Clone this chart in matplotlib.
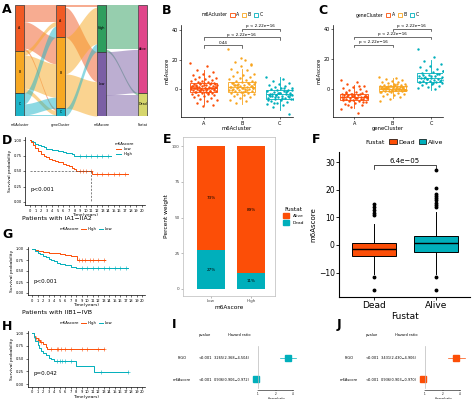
import numpy as np
import matplotlib
matplotlib.use("Agg")
import matplotlib.pyplot as plt
from matplotlib.patches import Patch, Rectangle
from matplotlib.lines import Line2D

# ---- colours ----
RED = "#FC4E07"
ORANGE = "#F8A51E"
TEAL = "#00AFBB"

# ---- A: alluvial ----
allu_axes = ["m6Acluster", "geneCluster", "m6Ascore", "Fustat"]
allu_strata = [["A", "B", "C"], ["A", "B", "C"], ["High", "Low"], ["Alive", "Dead"]]
allu_colors = [["#F15A24", "#F7A823", "#1DB4C8"], ["#F15A24", "#F7A823", "#1DB4C8"],
               ["#2E9E5E", "#7B5FA5"], ["#E0468A", "#D6D66C"]]
flow_m6a_gene = [[0.15, 0.24, 0.02], [0.04, 0.30, 0.04], [0.10, 0.10, 0.01]]
flow_gene_score = [[0.02, 0.27], [0.33, 0.31], [0.07, 0.00]]
flow_score_fustat = [[0.40, 0.02], [0.39, 0.19]]

# ---- B: m6Ascore by m6Acluster ----
groups_abc = ["A", "B", "C"]
b_A = [17.5, 15.8, 13.2, 11.6, 10.4, 9.5, 8.7, 8.1, 7.6, 7.0, 6.5, 6.1, 5.7, 5.3, 4.9, 4.6, 4.3, 4.0,
       3.7, 3.4, 3.1, 2.9, 2.6, 2.4, 2.1, 1.9, 1.7, 1.5, 1.3, 1.1, 0.9, 0.7, 0.5, 0.3, 0.1, -0.1,
       -0.3, -0.5, -0.7, -0.9, -1.1, -1.3, -1.6, -1.9, -2.2, -2.5, -2.8, -3.1, -3.5, -3.9, -4.3,
       -4.8, -5.3, -5.9, -6.6, -7.4, -8.3, -9.4, -10.6, -11.8, 2.2, 0.4, -0.8, 3.3, 1.0, -1.8,
       4.4, 0.0, 1.6, -2.6, 1.4, -0.2, 2.8, 0.6, -1.4, 3.9, 1.2, -0.6, 2.3, 0.8]
b_B = [27.0, 19.5, 18.2, 16.9, 15.3, 13.8, 12.6, 11.5, 10.4, 9.6, 8.8, 8.0, 7.3, 6.7, 6.1, 5.6, 5.1,
       4.7, 4.3, 3.9, 3.5, 3.1, 2.8, 2.5, 2.2, 1.9, 1.6, 1.3, 1.0, 0.7, 0.4, 0.1, -0.2, -0.5, -0.8,
       -1.1, -1.4, -1.7, -2.0, -2.4, -2.8, -3.2, -3.7, -4.2, -4.8, -5.5, -6.3, -7.2, -8.4, -9.8,
       2.0, 0.5, -1.0, 3.6, 1.2, 4.9, -0.3, 2.7, 16.0, 21.0, 1.5, -0.9, 3.0, 0.9, -2.2, 4.1]
b_C = [7.8, 6.5, 5.3, 4.4, 3.6, 2.9, 2.2, 1.6, 1.0, 0.5, 0.0, -0.5, -0.9, -1.3, -1.7, -2.1, -2.5,
       -2.9, -3.3, -3.6, -3.9, -4.2, -4.5, -4.8, -5.1, -5.4, -5.8, -6.2, -6.6, -7.0, -7.5, -8.0,
       -8.6, -9.3, -10.1, -11.0, -12.2, -16.8, -3.0, -4.0, -2.0, -5.6, -1.0, -6.0, -3.4, -4.6,
       -2.4, -7.8, 0.8, -9.8, -3.8, -2.7, -5.0, -1.6, -4.4, -6.9]
b_med = [1.0, 1.2, -3.5]
b_q1 = [-2.0, -1.8, -6.8]
b_q3 = [4.3, 4.5, -0.7]
b_lo = [-11.0, -10.0, -14.5]
b_hi = [13.0, 13.5, 7.8]

# ---- C: m6Ascore by geneCluster ----
c_A = [5.6, 4.2, 3.0, 2.0, 1.1, 0.3, -0.5, -1.2, -1.8, -2.4, -2.9, -3.3, -3.7, -4.0, -4.3, -4.6,
       -4.9, -5.2, -5.5, -5.8, -6.1, -6.4, -6.7, -7.0, -7.3, -7.6, -7.9, -8.3, -8.7, -9.2, -9.8,
       -10.5, -11.4, -12.5, -14.0, -16.8, -5.0, -6.0, -4.4, -7.1, -3.6, -8.0, -5.4, -6.6, -2.6,
       -9.0, -4.8, -5.9, 1.6, -11.0, -5.3, -6.3, -4.1, -7.4, -3.9, -5.7]
c_B = [7.8, 7.0, 6.3, 5.7, 5.1, 4.6, 4.1, 3.6, 3.2, 2.8, 2.4, 2.1, 1.8, 1.5, 1.2, 0.9, 0.6, 0.3,
       0.0, -0.3, -0.6, -0.9, -1.2, -1.5, -1.8, -2.1, -2.5, -2.9, -3.4, -3.9, -4.5, -5.2, -6.0,
       -7.0, -8.2, 0.2, -0.4, 1.0, -1.0, 0.7, -0.2, 1.4, -1.3, 2.3, 0.4, -0.7, 1.7, -2.3, 3.0,
       0.1, -0.1, 1.1, -0.5, 0.8, -1.6, 2.0, -0.8, 0.5, 1.3, -1.1, 0.3, -0.3, 0.9, -0.9, 1.6]
c_C = [27.0, 21.0, 18.5, 16.8, 15.5, 14.4, 13.4, 12.5, 11.7, 11.0, 10.4, 9.8, 9.3, 8.8, 8.4, 8.0,
       7.6, 7.2, 6.9, 6.6, 6.3, 6.0, 5.7, 5.4, 5.1, 4.8, 4.5, 4.2, 3.8, 3.4, 3.0, 2.5, 1.9, 1.2,
       0.4, -0.6, 7.0, 5.9, 8.6, 4.6, 10.0, 6.4, 12.0, 3.6, 9.0]
c_med = [-5.5, 0.0, 7.0]
c_q1 = [-7.5, -1.5, 4.5]
c_q3 = [-3.5, 2.0, 10.5]
c_lo = [-13.5, -6.5, -1.0]
c_hi = [2.5, 7.2, 19.5]

# ---- D, G, H: Kaplan-Meier ----
d_high_t = [0, 0.3, 0.6, 1, 1.5, 2, 2.5, 3, 3.5, 4, 5, 6, 6.5, 7.5, 8, 14.5]
d_high_s = [1, .98, .96, .94, .92, .90, .88, .86, .85, .84, .82, .80, .79, .78, .74, .74]
d_high_cens = [9, 10, 11, 12, 13, 14]
d_low_t = [0, .3, .6, 1, 1.5, 2, 2.5, 3, 3.5, 4, 4.5, 5, 5.5, 6, 6.5, 7, 7.5, 8, 8.3, 11.2, 17.5]
d_low_s = [1, .96, .92, .87, .82, .78, .75, .72, .70, .68, .66, .65, .64, .62, .60, .58, .55,
           .54, .50, .45, .45]
d_low_cens = [9, 9.5, 10, 11, 12, 13, 14, 15, 16, 17]
d_median = 11.0

g_high_t = [0, .5, 1, 2, 3, 4, 5, 6, 7, 8.2, 13.2]
g_high_s = [1, .98, .96, .94, .92, .90, .88, .87, .85, .75, .75]
g_high_cens = [8.5, 9, 9.7, 10.5, 11, 12, 13]
g_low_t = [0, .5, 1, 1.5, 2, 2.5, 3, 3.5, 4, 4.5, 5, 6, 7, 8, 17.5]
g_low_s = [1, .96, .92, .88, .85, .82, .78, .75, .72, .69, .66, .63, .60, .56, .56]
g_low_cens = [9, 10, 11, 12, 13, 14, 15, 16, 17]

h_high_t = [0, .3, .6, 1, 1.5, 2, 2.5, 2.8, 13]
h_high_s = [1, .95, .90, .86, .83, .78, .72, .68, .68]
h_high_cens = [0.8, 1.2, 1.7, 3.5, 4.5, 4.8, 5.2, 6, 7, 9, 10, 12, 13]
h_low_t = [0, .3, .6, 1, 1.3, 1.6, 2, 2.5, 3, 3.5, 4, 8, 11.2, 17.5]
h_low_s = [1, .92, .84, .76, .70, .65, .60, .56, .52, .49, .46, .36, .24, .24]
h_low_cens = [4.5, 5, 5.5, 6, 7, 12.5, 17.5]

# ---- E: stacked percent bars ----
e_groups = ["Low", "High"]
e_dead = [27, 11]
e_alive = [73, 89]

# ---- F: m6Ascore by Fustat ----
f_groups = ["Dead", "Alive"]
f_med = [-1.5, 0.6]
f_q1 = [-4.0, -2.7]
f_q3 = [0.8, 3.4]
f_lo = [-10.5, -10.5]
f_hi = [7.5, 12.0]
f_out = [[15.0, 13.8, 12.7, 11.5, 10.8, -11.8, -16.4],
         [27.2, 20.8, 18.6, 17.8, 17.0, 16.2, 15.4, 14.6, 13.8, -11.8, -16.4]]

# ---- I, J: forest plots ----
fr_vars = ["FIGO", "m6Ascore"]
fr_p = ["<0.001", "<0.001"]
i_hr = [3.265, 0.936]
i_lo = [2.368, 0.906]
i_hi = [4.504, 0.972]
j_hr = [3.431, 0.936]
j_lo = [2.430, 0.903]
j_hi = [4.906, 0.970]

W, H = 474, 399
fig = plt.figure(figsize=(W / 100, H / 100), dpi=100)


def px_axes(x0, y0, x1, y1):
    return fig.add_axes([x0 / W, 1 - y1 / H, (x1 - x0) / W, (y1 - y0) / H])


def ftext(x, y, s, **kw):
    fig.text(x / W, 1 - y / H, s, **kw)


def style_axes(ax, fs):
    for sp in ["top", "right"]:
        ax.spines[sp].set_visible(False)
    for sp in ["left", "bottom"]:
        ax.spines[sp].set_linewidth(0.5)
    ax.tick_params(labelsize=fs, length=1.5, width=0.4, pad=1)


# ================= A =================
axA = px_axes(5.2, 5, 156.9, 116)
bw = 0.22
flows = [flow_m6a_gene, flow_gene_score, flow_score_fustat]
for k, fl in enumerate(flows):
    fl = np.array(fl)
    lpos = np.concatenate([[0], np.cumsum(fl.sum(1))[:-1]])
    rpos = np.concatenate([[0], np.cumsum(fl.sum(0))[:-1]])
    xs = np.linspace(k + bw / 2, k + 1 - bw / 2, 60)
    t = (xs - xs[0]) / (xs[-1] - xs[0])
    sm = t * t * (3 - 2 * t)
    for i in range(fl.shape[0]):
        for j in range(fl.shape[1]):
            f = fl[i, j]
            if f <= 0:
                continue
            top = lpos[i] + (rpos[j] - lpos[i]) * sm
            axA.fill_between(xs, top, top + f, color=allu_colors[k][i], alpha=0.5, lw=0)
            lpos[i] += f
            rpos[j] += f

sizes = [np.array(flows[0]).sum(1)] + [np.array(fl).sum(0) for fl in flows]
for a, (names, sz) in enumerate(zip(allu_strata, sizes)):
    y = 0
    for n, s, c in zip(names, sz, allu_colors[a]):
        axA.add_patch(Rectangle((a - bw / 2, y), bw, s, facecolor=c, edgecolor="#333333", lw=0.5))
        axA.text(a, y + s / 2, n, ha="center", va="center", fontsize=2.3)
        y += s
    axA.text(a, 1.08, allu_axes[a], ha="center", va="center", fontsize=2.3, clip_on=False)
axA.set_xlim(-0.35, 3.35)
axA.set_ylim(1.0, 0.0)
axA.axis("off")


# ================= B & C =================
def box_jitter(ax, groups, med, q1, q3, lo, hi, colors):
    for i, vals in enumerate(groups):
        c = colors[i]
        st = [dict(med=med[i], q1=q1[i], q3=q3[i], whislo=lo[i], whishi=hi[i], fliers=[])]
        ax.bxp(st, positions=[i], widths=0.72, showfliers=False, showcaps=False, patch_artist=True,
               boxprops=dict(facecolor="none", edgecolor=c, lw=0.6),
               medianprops=dict(color=c, lw=0.6), whiskerprops=dict(color=c, lw=0.6))
        n = len(vals)
        jit = ((np.arange(n) * 0.6180339887) % 1 - 0.5) * 0.7
        ax.scatter(i + jit, vals, s=3, color=c, lw=0, zorder=3)


def bracket(ax, x1, x2, y, h, txt, fs, lw=0.4):
    ax.plot([x1, x1, x2, x2], [y - h, y, y, y - h], color="k", lw=lw, clip_on=False)
    ax.text((x1 + x2) / 2, y + h * 0.4, txt, ha="center", va="bottom", fontsize=fs)


cols3 = [RED, ORANGE, TEAL]
axB = px_axes(181, 25, 293, 117.3)
box_jitter(axB, [b_A, b_B, b_C], b_med, b_q1, b_q3, b_lo, b_hi, cols3)
bracket(axB, 0, 1, 29.5, 1.5, "0.44", 3)
bracket(axB, 0, 2, 35.0, 1.5, "p < 2.22e\u221216", 3)
bracket(axB, 1, 2, 40.5, 1.5, "p < 2.22e\u221216", 3)
axB.set_xlim(-0.6, 2.35)
axB.set_ylim(-19.2, 43.4)
axB.set_xticks(range(3))
axB.set_xticklabels(groups_abc)
axB.set_yticks([0, 20, 40])
style_axes(axB, 3.5)
axB.set_xlabel("m6Acluster", fontsize=3.8, labelpad=0.5)
axB.set_ylabel("m6Ascore", fontsize=3.8, labelpad=1)

axC = px_axes(333, 25, 443, 117.3)
box_jitter(axC, [c_A, c_B, c_C], c_med, c_q1, c_q3, c_lo, c_hi, cols3)
bracket(axC, 0, 1, 29.5, 1.5, "p < 2.22e\u221216", 3)
bracket(axC, 0, 2, 35.0, 1.5, "p < 2.22e\u221216", 3)
bracket(axC, 1, 2, 40.5, 1.5, "p < 2.22e\u221216", 3)
axC.set_xlim(-0.55, 2.31)
axC.set_ylim(-19.5, 43.0)
axC.set_xticks(range(3))
axC.set_xticklabels(groups_abc)
axC.set_yticks([0, 20, 40])
style_axes(axC, 3.5)
axC.set_xlabel("geneCluster", fontsize=3.8, labelpad=0.5)
axC.set_ylabel("m6Ascore", fontsize=3.8, labelpad=1)

for title, cx in [("m6Acluster", 229), ("geneCluster", 384)]:
    hnd = [Line2D([], [], ls="none")] + [Patch(facecolor="white", edgecolor=c, lw=0.6) for c in cols3]
    fig.legend(hnd, [title] + groups_abc, ncol=4, loc="center", bbox_to_anchor=(cx / W, 1 - 15 / H),
               fontsize=3.3, frameon=False, handlelength=1.0, handleheight=0.9,
               handletextpad=0.3, columnspacing=0.6)


# ================= D, G, H =================
def km_panel(ax, curves):
    for t, s, cens, c in curves:
        ax.step(t, s, where="post", color=c, lw=0.7)
        t = np.array(t)
        idx = np.searchsorted(t, cens, side="right") - 1
        ax.plot(cens, np.array(s)[idx], ls="none", marker="+", ms=2.2, mew=0.4, color=c)
    ax.set_xlim(-0.8, 20.6)
    ax.set_ylim(-0.05, 1.05)
    ax.set_xticks(range(21))
    ax.set_yticks([0, 0.25, 0.5, 0.75, 1.0])
    ax.set_yticklabels(["0.00", "0.25", "0.50", "0.75", "1.00"])
    style_axes(ax, 2.6)
    ax.set_xlabel("Time(years)", fontsize=3.2, labelpad=0.5)
    ax.set_ylabel("Survival probability", fontsize=3.2, labelpad=1)


axD = px_axes(25.2, 136.9, 145, 205.1)
km_panel(axD, [(d_high_t, d_high_s, d_high_cens, TEAL), (d_low_t, d_low_s, d_low_cens, RED)])
axD.plot([0, d_median], [0.5, 0.5], ls=(0, (3, 2)), color="#555555", lw=0.5)
axD.plot([d_median, d_median], [0.5, 0], ls=(0, (3, 2)), color="#555555", lw=0.5)
axD.text(0.2, 0.2, "p<0.001", fontsize=4, va="center")
axD.legend([Line2D([], [], color=RED, lw=0.7), Line2D([], [], color=TEAL, lw=0.7)], ["Low", "High"],
           title="m6Ascore", loc="upper left", bbox_to_anchor=(0.72, 0.97), fontsize=2.8,
           title_fontsize=2.8, frameon=False, handlelength=1.2, labelspacing=0.2)

ftext(22, 219, "Patients with IA1\u2212IIA2", fontsize=4.5, va="center")
axG = px_axes(27.6, 246.8, 145.3, 295.2)
km_panel(axG, [(g_high_t, g_high_s, g_high_cens, RED), (g_low_t, g_low_s, g_low_cens, TEAL)])
axG.text(0.2, 0.25, "p<0.001", fontsize=4, va="center")

ftext(22, 313, "Patients with IIB1\u2212IVB", fontsize=4.5, va="center")
axH = px_axes(27.6, 330.5, 145.3, 386.6)
km_panel(axH, [(h_high_t, h_high_s, h_high_cens, RED), (h_low_t, h_low_s, h_low_cens, TEAL)])
axH.text(0.2, 0.2, "p=0.042", fontsize=4, va="center")

for ly in [229, 323]:
    hnd = [Line2D([], [], ls="none"), Line2D([], [], color=RED, lw=0.7), Line2D([], [], color=TEAL, lw=0.7)]
    fig.legend(hnd, ["m6Ascore", "High", "Low"], ncol=3, loc="center", bbox_to_anchor=(83 / W, 1 - ly / H),
               fontsize=2.8, frameon=False, handlelength=1.2, handletextpad=0.3, columnspacing=0.6)

# ================= E =================
axE = px_axes(183, 137, 275, 296)
xe = np.arange(len(e_groups))
axE.bar(xe, e_dead, width=0.7, color=TEAL)
axE.bar(xe, e_alive, width=0.7, bottom=e_dead, color=RED)
for x, d, a in zip(xe, e_dead, e_alive):
    axE.text(x, d / 2, f"{d}%", ha="center", va="center", fontsize=3)
    axE.text(x, d + a / 2, f"{a}%", ha="center", va="center", fontsize=3)
axE.set_xlim(-0.7, 1.6)
axE.set_ylim(-4.9, 106.3)
axE.set_xticks(xe)
axE.set_xticklabels(e_groups)
axE.set_yticks([0, 25, 50, 75, 100])
for sp in axE.spines.values():
    sp.set_color("#BBBBBB")
    sp.set_linewidth(0.5)
axE.tick_params(labelsize=3, length=1.5, width=0.4, pad=1, color="#888888", labelcolor="#444444")
axE.set_xlabel("m6Ascore", fontsize=4.2, labelpad=1)
axE.set_ylabel("Percent weight", fontsize=4.2, labelpad=2)
fig.legend([Patch(color=RED), Patch(color=TEAL)], ["Alive", "Dead"], title="Fustat",
           loc="upper left", bbox_to_anchor=(279 / W, 1 - 203 / H), fontsize=3.2, title_fontsize=4.2,
           frameon=False, handlelength=1.4, handleheight=1.4, labelspacing=0.3)

# ================= F =================
axF = px_axes(339, 152, 470, 297)
fcols = [RED, TEAL]
for i in range(2):
    st = [dict(med=f_med[i], q1=f_q1[i], q3=f_q3[i], whislo=f_lo[i], whishi=f_hi[i], fliers=f_out[i])]
    axF.bxp(st, positions=[i], widths=0.71, showcaps=False, patch_artist=True,
            boxprops=dict(facecolor=fcols[i], edgecolor="black", lw=0.7),
            medianprops=dict(color="black", lw=1.0), whiskerprops=dict(color="black", lw=0.7),
            flierprops=dict(marker="o", markerfacecolor="black", markeredgecolor="black", ms=1.8))
bracket(axF, 0, 1, 29.0, 1.5, "6.4e\u221205", 5, lw=0.5)
axF.set_xlim(-0.56, 1.55)
axF.set_ylim(-18.9, 33.8)
axF.set_xticks([0, 1])
axF.set_xticklabels(f_groups)
axF.set_yticks([-10, 0, 10, 20, 30])
for sp in ["top", "right"]:
    axF.spines[sp].set_visible(False)
for sp in ["left", "bottom"]:
    axF.spines[sp].set_linewidth(0.8)
axF.tick_params(axis="y", labelsize=5.5, length=2, width=0.6, pad=1)
axF.tick_params(axis="x", labelsize=6.5, length=2, width=0.6, pad=1)
axF.set_xlabel("Fustat", fontsize=6.5, labelpad=1)
axF.set_ylabel("m6Ascore", fontsize=5, labelpad=2)
hnd = [Line2D([], [], ls="none"), Patch(facecolor=RED, edgecolor="black", lw=0.5),
       Patch(facecolor=TEAL, edgecolor="black", lw=0.5)]
fig.legend(hnd, ["Fustat", "Dead", "Alive"], ncol=3, loc="center", bbox_to_anchor=(400 / W, 1 - 142 / H),
           fontsize=4.5, frameon=False, handlelength=1.2, handleheight=0.9, handletextpad=0.3,
           columnspacing=0.6)


# ================= I & J =================
def forest(x_one, col, hr, lo, hi):
    ax = px_axes(x_one - 9, 346, x_one + 46, 390)
    yv = [2, 1]
    for y, h, l, u in zip(yv, hr, lo, hi):
        ax.plot([l, u], [y, y], color=col, lw=0.5)
        ax.plot([h], [y], marker="s", ms=5, color=col, ls="none")
    ax.plot([1, 1], [0.6, 2.55], color="#BBBBBB", lw=0.5)
    ax.set_xscale("log")
    ax.set_xlim(np.exp(-9 / 25.4), np.exp(46 / 25.4))
    ax.set_ylim(0.5, 2.55)
    for sp in ["top", "right", "left"]:
        ax.spines[sp].set_visible(False)
    ax.spines["bottom"].set_bounds(1, 4)
    ax.spines["bottom"].set_linewidth(0.4)
    ax.set_yticks([])
    ax.set_xticks([1, 2, 4])
    ax.set_xticklabels(["1", "2", "4"])
    ax.xaxis.set_minor_locator(plt.NullLocator())
    ax.tick_params(axis="x", labelsize=2, length=1, width=0.3, pad=0.5)
    ax.set_xlabel("Hazard ratio", fontsize=2, labelpad=0.3)
    ftext(x_one - 53, 335, "pvalue", fontsize=2.6, ha="center", va="center")
    ftext(x_one - 19, 335, "Hazard ratio", fontsize=2.6, ha="center", va="center")
    for ry, v, p, h, l, u in zip([358, 380], fr_vars, fr_p, hr, lo, hi):
        ftext(x_one - 76, ry, v, fontsize=2.6, ha="center", va="center")
        ftext(x_one - 53, ry, p, fontsize=2.6, ha="center", va="center")
        ftext(x_one - 26, ry, f"{h:.3f}({l:.3f}\u2212{u:.3f})", fontsize=2.5, ha="center", va="center")


forest(258, TEAL, i_hr, i_lo, i_hi)
forest(425, RED, j_hr, j_lo, j_hi)

# ---- panel letters ----
for lab, x, y in [("A", 2, 3), ("B", 162, 4), ("C", 318, 4), ("D", 2, 134), ("E", 163, 133),
                  ("F", 312, 133), ("G", 2, 228), ("H", 2, 320), ("I", 172, 318), ("J", 337, 318)]:
    ftext(x, y, lab, fontsize=9, fontweight="bold", va="top", ha="left")

fig.savefig("out.png", dpi=100)
